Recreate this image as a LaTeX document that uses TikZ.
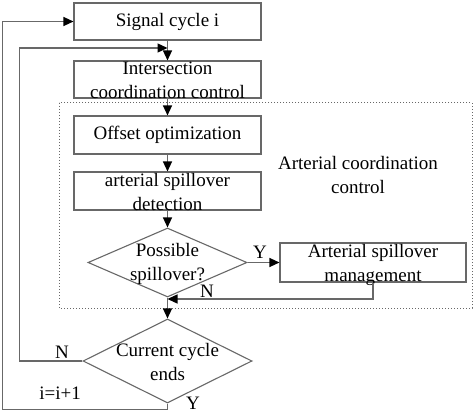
\documentclass[tikz,border=0pt]{standalone}
\usepackage{fontspec}
\setmainfont{Liberation Serif}
\usetikzlibrary{shapes.geometric,arrows.meta}
\definecolor{lc}{HTML}{686868}
\begin{document}
\begin{tikzpicture}[x=1pt,y=-1pt,
  every node/.style={font=\fontsize{19}{24}\selectfont},
  box/.style={draw=lc, line width=1.1pt, minimum width=187pt, inner sep=0pt},
  dia/.style={draw=lc, diamond, line width=1.1pt, inner sep=0pt},
  txt/.style={inner sep=0pt, align=center},
  ln/.style={draw=lc, line width=1.3pt},
  arr/.style={ln, -{Triangle[length=10pt,width=9pt,color=black]}},
  lbl/.style={inner sep=0pt}]
\useasboundingbox[fill=white] (0,0) rectangle (474,414);
% dotted frame
\draw[lc, dotted, line width=1pt] (59,103) rectangle (472,308);
\node[txt] (acc) at (358,175) {Arterial coordination\\control};
% boxes
\node[box, minimum height=37pt] (b1) at (167.5,21.5) {};
\node[txt] (b1t) at (b1) {Signal cycle i};
\node[box, minimum height=37pt] (b2) at (167.5,79.5) {};
\node[txt] (b2t) at (167.5,80.5) {Intersection\\coordination control};
\node[box, minimum height=38pt] (b3) at (167.5,135) {};
\node[txt] (b3t) at (b3) {Offset optimization};
\node[box, minimum height=38pt] (b4) at (167.5,191) {};
\node[txt] (b4t) at (167.5,192.5) {arterial spillover\\detection};
\node[dia, minimum width=159pt, minimum height=69pt] (d1) at (167.5,262.5) {};
\node[txt] (d1t) at (167.5,263.5) {Possible\\spillover?};
\node[box, minimum width=186pt, minimum height=39pt] (b5) at (373,262.5) {};
\node[txt] (b5t) at (373,265) {Arterial spillover\\management};
\node[dia, minimum width=169pt, minimum height=84pt] (d2) at (167.5,361) {};
\node[txt] (d2t) at (167.5,362) {Current cycle\\ends};
% junctions
\coordinate (j1) at (167.5,48);
\coordinate (j2) at (167.5,299);
% connectors
\draw[arr] (b1.south) -- (b2.north);
\draw[arr] (b2.south) -- (b3.north);
\draw[arr] (b3.south) -- (b4.north);
\draw[arr] (b4.south) -- (d1.north);
\draw[arr] (d1.east) -- (b5.west);
\draw[arr] (b5.south) |- (j2);
\draw[arr] (d1.south) -- (d2.north);
\draw[arr] (d2.west) -- ++(-63,0) |- (j1);
\draw[arr] (d2.south) -- ++(0,6) -- ++(-165,0) |- (b1.west);
% labels
\node[lbl] (ly1) at (260,252) {Y};
\node[lbl] (ln1) at (207,291) {N};
\node[lbl] (ln2) at (62,352) {N};
\node[lbl] (linc) at (60,393) {i=i+1};
\node[lbl] (ly2) at (193,403) {Y};
\end{tikzpicture}
\end{document}
